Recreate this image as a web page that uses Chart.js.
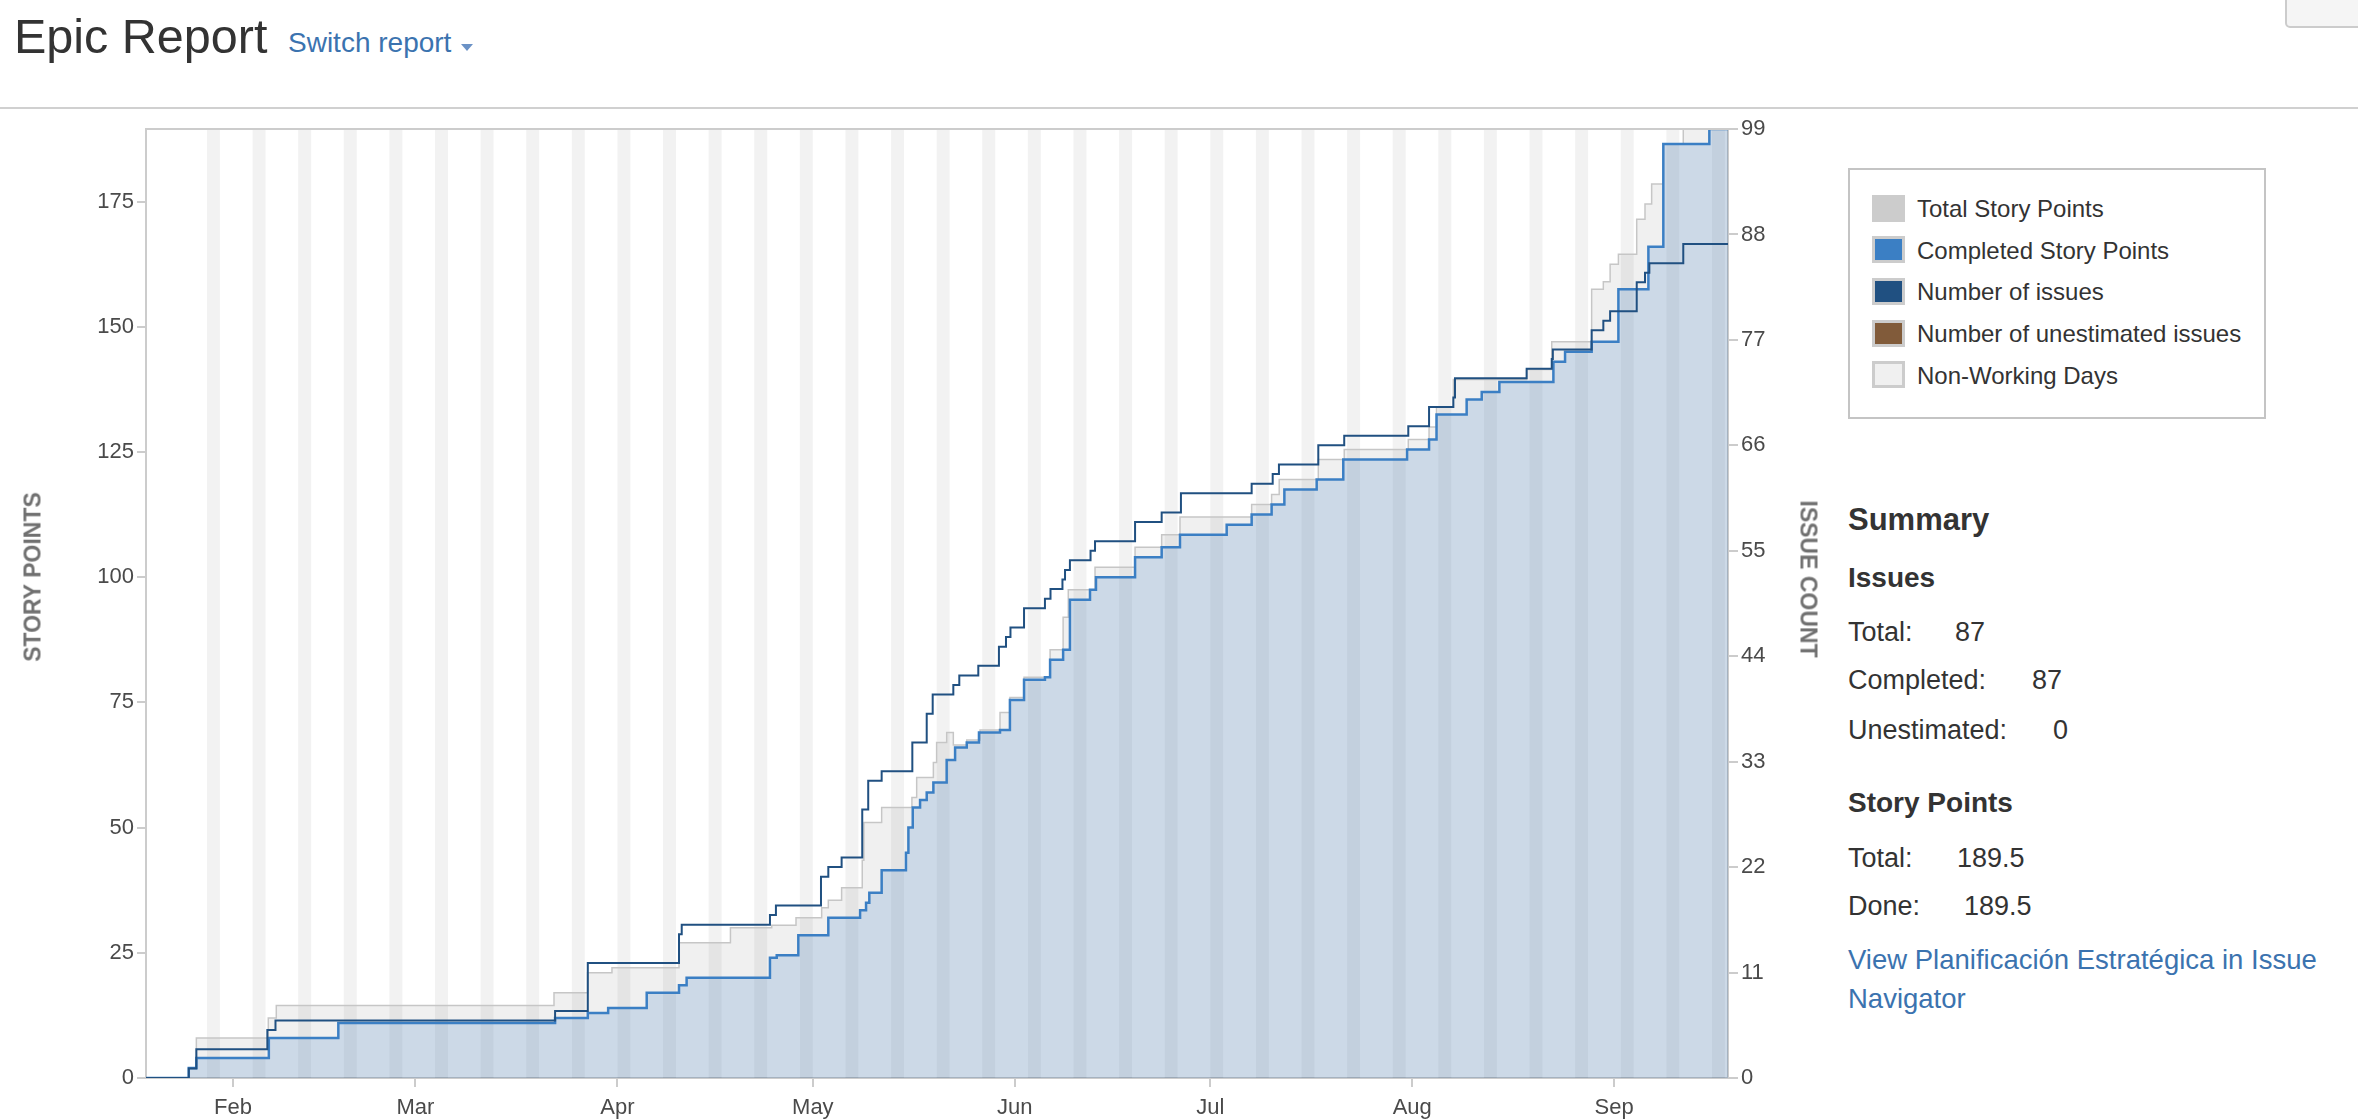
<!DOCTYPE html>
<html>
<head>
<meta charset="utf-8">
<script src="https://cdn.jsdelivr.net/npm/chart.js@4.4.1/dist/chart.umd.min.js"></script>
<style>
  html, body { margin: 0; padding: 0; background: #fff; }
  body { width: 2358px; height: 1120px; position: relative; overflow: hidden;
         font-family: "Liberation Sans", Arial, Helvetica, sans-serif; color: #333; }
  .abs { position: absolute; white-space: nowrap; line-height: 1; }
  .bold { font-weight: bold; }
  .swatch { position: absolute; width: 27px; height: 21px; border: 3px solid #ccc; }
  .legtext { position: absolute; font-size: 24px; line-height: 1; color: #333; white-space: nowrap; }
  .axis-title { position: absolute; font-size: 23px; font-weight: bold; color: #707070; white-space: nowrap; line-height: 1; }
  a, .link { color: #3b73af; text-decoration: none; }
</style>
</head>
<body>

<div class="abs" style="left:14px; top:12px; font-size:48.5px; color:#333;">Epic Report</div>
<div class="abs link" style="left:288px; top:29px; font-size:28px;">Switch report</div>
<div class="abs" style="left:461px; top:44px; width:0; height:0; border-left:6px solid transparent; border-right:6px solid transparent; border-top:7px solid #6b92c6;"></div>
<div class="abs" style="left:0; top:107px; width:2358px; height:2px; background:#d0d0d0;"></div>
<div class="abs" style="left:2285px; top:-8px; width:100px; height:32px; border:2px solid #ccc; border-radius:5px; background:#f5f5f5;"></div>

<canvas id="chart" width="1840" height="1120" style="position:absolute; left:0; top:0; width:1840px; height:1120px;"></canvas>

<div class="axis-title" style="left:33px; top:577px; transform:translate(-50%,-50%) rotate(-90deg);">STORY POINTS</div>
<div class="axis-title" style="left:1808px; top:579px; transform:translate(-50%,-50%) rotate(90deg);">ISSUE COUNT</div>

<div class="abs" style="left:1848px; top:168px; width:414px; height:247px; border:2px solid #c4c4c4;"></div>
<div id="legend"></div>

<div class="abs bold" style="left:1848px; top:504px; font-size:31px;">Summary</div>
<div class="abs bold" style="left:1848px; top:564px; font-size:28px;">Issues</div>
<div class="abs" style="left:1848px; top:619px; font-size:27px;">Total:</div>
<div class="abs" style="left:1955px; top:619px; font-size:27px;">87</div>
<div class="abs" style="left:1848px; top:667px; font-size:27px;">Completed:</div>
<div class="abs" style="left:2032px; top:667px; font-size:27px;">87</div>
<div class="abs" style="left:1848px; top:717px; font-size:27px;">Unestimated:</div>
<div class="abs" style="left:2053px; top:717px; font-size:27px;">0</div>
<div class="abs bold" style="left:1848px; top:789px; font-size:28px;">Story Points</div>
<div class="abs" style="left:1848px; top:845px; font-size:27px;">Total:</div>
<div class="abs" style="left:1957px; top:845px; font-size:27px;">189.5</div>
<div class="abs" style="left:1848px; top:893px; font-size:27px;">Done:</div>
<div class="abs" style="left:1964px; top:893px; font-size:27px;">189.5</div>
<div class="link" style="position:absolute; left:1848px; top:940px; width:500px; font-size:27.5px; line-height:39px;">View Planificación Estratégica in Issue Navigator</div>

<script>
// x axis: months of 2017
const monthTicks = ['2017-02-01', '2017-03-01', '2017-04-01', '2017-05-01', '2017-06-01', '2017-07-01', '2017-08-01', '2017-09-01'];
const monthLabels = ['Feb', 'Mar', 'Apr', 'May', 'Jun', 'Jul', 'Aug', 'Sep'];
const storyTicks = [0, 25, 50, 75, 100, 125, 150, 175];
const issueTicks = [0, 11, 22, 33, 44, 55, 66, 77, 88, 99];
const rangeStart = '2017-01-18T15:30';
const rangeEnd = '2017-09-18T11:15';
const firstWeekend = '2017-01-28';

// Total Story Points (change points)
const totalDates = ['2017-01-25T05:00', '2017-01-26T09:00', '2017-02-06T10:00', '2017-02-07T15:30', '2017-03-22T06:30', '2017-03-27T10:00', '2017-03-31T04:00', '2017-04-10T11:00', '2017-04-18T08:30', '2017-04-24T16:30', '2017-04-28T10:00', '2017-05-02T08:30', '2017-05-03T09:00', '2017-05-05T10:00', '2017-05-08T14:00', '2017-05-08T20:00', '2017-05-11T13:30', '2017-05-16T05:00', '2017-05-16T22:30', '2017-05-19T12:00', '2017-05-20T00:00', '2017-05-21T13:00', '2017-05-22T13:30', '2017-05-24T15:00', '2017-05-26T16:00', '2017-05-29T17:30', '2017-05-31T06:00', '2017-06-02T10:00', '2017-06-06T10:00', '2017-06-08T10:00', '2017-06-09T05:00', '2017-06-13T07:30', '2017-06-19T11:00', '2017-06-23T13:00', '2017-06-26T08:30', '2017-07-07T08:30', '2017-07-10T10:00', '2017-07-11T14:00', '2017-07-17T14:00', '2017-07-21T13:30', '2017-07-31T09:30', '2017-08-03T14:00', '2017-08-04T17:30', '2017-08-07T07:30', '2017-08-18T13:30', '2017-08-22T10:00', '2017-08-28T13:00', '2017-08-30T08:00', '2017-08-31T09:00', '2017-09-01T15:30', '2017-09-04T11:00', '2017-09-05T17:30', '2017-09-06T18:00', '2017-09-08T13:00', '2017-09-11T14:30'];
const totalPoints = [2, 8, 12, 14.5, 17, 21, 22, 27, 30, 30.5, 32, 34, 35.5, 38, 43.5, 51, 54, 56, 60, 63, 67, 69, 66.5, 67.5, 69.5, 73, 76, 80, 85.5, 92, 97.5, 102, 106, 108.5, 112, 114.5, 116.5, 119.5, 123.5, 125.5, 127.5, 130, 134, 139.5, 141.5, 147, 157.5, 159, 162.5, 164.5, 171.5, 174.5, 178.5, 186.5, 189.5];

// Completed Story Points (change points)
const completedDates = ['2017-01-25T05:00', '2017-01-26T09:00', '2017-02-06T12:00', '2017-02-17T04:00', '2017-03-22T10:30', '2017-03-27T11:00', '2017-03-30T14:00', '2017-04-05T12:00', '2017-04-10T11:00', '2017-04-11T15:00', '2017-04-24T10:00', '2017-04-25T11:00', '2017-04-28T18:30', '2017-05-03T09:00', '2017-05-08T06:00', '2017-05-09T04:00', '2017-05-09T16:00', '2017-05-11T13:30', '2017-05-15T07:00', '2017-05-15T16:00', '2017-05-16T08:00', '2017-05-17T11:00', '2017-05-18T11:30', '2017-05-19T12:00', '2017-05-21T13:00', '2017-05-22T20:00', '2017-05-24T15:00', '2017-05-26T12:00', '2017-05-29T17:30', '2017-05-31T06:00', '2017-06-02T10:00', '2017-06-05T15:00', '2017-06-06T10:00', '2017-06-08T10:00', '2017-06-09T11:00', '2017-06-12T13:00', '2017-06-13T11:00', '2017-06-19T11:00', '2017-06-23T13:00', '2017-06-26T08:30', '2017-07-03T12:30', '2017-07-07T08:30', '2017-07-10T10:00', '2017-07-12T09:00', '2017-07-17T08:00', '2017-07-21T10:00', '2017-07-31T05:00', '2017-08-03T14:00', '2017-08-04T17:30', '2017-08-09T08:30', '2017-08-11T16:00', '2017-08-14T09:00', '2017-08-22T16:00', '2017-08-24T11:00', '2017-08-28T13:00', '2017-09-01T15:30', '2017-09-06T06:00', '2017-09-08T13:00', '2017-09-15T14:30'];
const completedPoints = [2, 4, 8, 11, 12, 13, 14, 17, 18.5, 20, 24, 24.5, 28.5, 32, 33.5, 35, 37, 41.5, 45, 50, 54, 55.5, 57, 59, 63.5, 66, 67, 69, 69.5, 75.5, 79.5, 80, 83.5, 85.5, 95.5, 97.5, 100, 104, 106, 108.5, 110.5, 112.5, 114.5, 117.5, 119.5, 123.5, 125.5, 127.5, 132.5, 135.5, 137, 139, 143, 145, 147, 157.5, 166, 186.5, 189.5];

// Number of issues (change points)
const issueDates = ['2017-01-25T05:00', '2017-01-26T09:00', '2017-02-06T06:30', '2017-02-07T12:30', '2017-03-22T10:30', '2017-03-27T11:00', '2017-04-10T11:00', '2017-04-10T21:00', '2017-04-24T10:00', '2017-04-25T08:00', '2017-05-02T06:00', '2017-05-03T09:00', '2017-05-05T10:00', '2017-05-08T14:00', '2017-05-09T12:00', '2017-05-11T13:30', '2017-05-16T06:30', '2017-05-18T11:30', '2017-05-19T09:30', '2017-05-22T13:30', '2017-05-23T11:30', '2017-05-26T09:30', '2017-05-29T13:30', '2017-05-30T15:30', '2017-05-31T08:00', '2017-06-02T10:00', '2017-06-05T15:00', '2017-06-06T11:30', '2017-06-08T07:30', '2017-06-08T17:00', '2017-06-09T11:00', '2017-06-12T15:00', '2017-06-13T07:30', '2017-06-19T11:00', '2017-06-23T13:00', '2017-06-26T12:00', '2017-07-07T08:30', '2017-07-10T14:00', '2017-07-11T13:00', '2017-07-17T14:00', '2017-07-21T13:30', '2017-07-31T09:30', '2017-08-03T14:00', '2017-08-07T07:30', '2017-08-07T13:30', '2017-08-18T13:30', '2017-08-22T10:00', '2017-08-22T14:00', '2017-08-28T13:00', '2017-08-30T08:00', '2017-08-31T09:00', '2017-09-04T11:00', '2017-09-05T17:30', '2017-09-06T09:30', '2017-09-11T14:30'];
const issueCounts = [1, 3, 5, 6, 7, 12, 15, 16, 17, 18, 21, 22, 23, 28, 31, 32, 35, 38, 40, 41, 42, 43, 45, 46, 47, 49, 50, 51, 52, 53, 54, 55, 56, 58, 59, 61, 62, 63, 64, 66, 67, 68, 70, 71, 73, 74, 75, 76, 78, 79, 80, 83, 84, 85, 87];

const legendItems = ['Total Story Points', 'Completed Story Points', 'Number of issues', 'Number of unestimated issues', 'Non-Working Days'];
const legendColors = ['#cccccc', '#3b7fc4', '#205081', '#815b3a', '#f0f0f0'];

const DAY = 86400000;
const ts = s => Date.parse(s.length === 10 ? s + 'T00:00:00Z' : s + ':00Z');
const xMin = ts(rangeStart);
const xMax = ts(rangeEnd);

function steps(dates, values) {
    const pts = [{ x: xMin, y: 0 }];
    dates.forEach((d, i) => pts.push({ x: ts(d), y: values[i] }));
    pts.push({ x: xMax, y: values[values.length - 1] });
    return pts;
}

// legend (html)
const legend = document.getElementById('legend');
legendItems.forEach((name, i) => {
    const cy = 208 + i * 41.7;
    legend.insertAdjacentHTML('beforeend',
        `<div class="swatch" style="left:1872px; top:${cy - 13.5}px; background:${legendColors[i]};"></div>` +
        `<div class="legtext" style="left:1917px; top:${cy - 11}px;">${name}</div>`);
});

// weekend stripes + top frame
const nonWorkingDays = {
    id: 'nonWorkingDays',
    beforeDatasetsDraw(chart) {
        const { ctx, chartArea: a, scales: { x } } = chart;
        ctx.save();
        ctx.beginPath();
        ctx.rect(a.left, a.top, a.right - a.left, a.bottom - a.top);
        ctx.clip();
        ctx.fillStyle = 'rgba(0,0,0,0.05)';
        for (let t = ts(firstWeekend); t < xMax; t += 7 * DAY) {
            const x0 = x.getPixelForValue(t);
            const x1 = x.getPixelForValue(t + 2 * DAY);
            ctx.fillRect(x0, a.top, x1 - x0, a.bottom - a.top);
        }
        ctx.restore();
    },
    afterDraw(chart) {
        const { ctx, chartArea: a } = chart;
        ctx.save();
        ctx.strokeStyle = '#cccccc';
        ctx.lineWidth = 2;
        ctx.beginPath();
        ctx.moveTo(a.left, a.top);
        ctx.lineTo(a.right, a.top);
        ctx.stroke();
        ctx.restore();
    }
};

const tickFont = { family: '"Liberation Sans", Arial, sans-serif', size: 22 };
const tickColor = '#4a4a4a';

new Chart(document.getElementById('chart'), {
    type: 'line',
    data: {
        datasets: [
            {
                label: 'Number of issues',
                data: steps(issueDates, issueCounts),
                yAxisID: 'yIssues',
                stepped: 'before',
                borderColor: '#205081',
                borderWidth: 2,
                pointRadius: 0,
                fill: false
            },
            {
                label: 'Completed Story Points',
                data: steps(completedDates, completedPoints),
                yAxisID: 'yStory',
                stepped: 'before',
                borderColor: '#3b7fc4',
                borderWidth: 2.5,
                pointRadius: 0,
                fill: 'origin',
                backgroundColor: 'rgba(59,127,196,0.2)'
            },
            {
                label: 'Total Story Points',
                data: steps(totalDates, totalPoints),
                yAxisID: 'yStory',
                stepped: 'before',
                borderColor: '#c6c6c6',
                borderWidth: 1.5,
                pointRadius: 0,
                fill: 'origin',
                backgroundColor: 'rgba(0,0,0,0.06)'
            }
        ]
    },
    options: {
        responsive: false,
        animation: false,
        devicePixelRatio: 1,
        layout: { padding: { top: 129, left: 0, right: 0, bottom: 0 } },
        plugins: {
            legend: { display: false },
            tooltip: { enabled: false }
        },
        scales: {
            x: {
                type: 'linear',
                min: xMin,
                max: xMax,
                afterFit(s) { s.height = 42; },
                afterBuildTicks(s) { s.ticks = monthTicks.map(m => ({ value: ts(m) })); },
                ticks: {
                    callback: (v, i) => monthLabels[i],
                    color: tickColor, font: tickFont, padding: 8,
                    maxRotation: 0, autoSkip: false
                },
                grid: { drawOnChartArea: false, tickLength: 9, color: '#cccccc', lineWidth: 2 },
                border: { color: '#cccccc', width: 2 }
            },
            yStory: {
                type: 'linear',
                position: 'left',
                min: 0,
                max: 189.5,
                afterFit(s) { s.width = 146; },
                afterBuildTicks(s) { s.ticks = storyTicks.map(v => ({ value: v })); },
                ticks: { color: tickColor, font: tickFont, padding: 3 },
                grid: { drawOnChartArea: false, tickLength: 9, color: '#cccccc', lineWidth: 2 },
                border: { color: '#cccccc', width: 2 }
            },
            yIssues: {
                type: 'linear',
                position: 'right',
                min: 0,
                max: 99,
                afterFit(s) { s.width = 112; },
                afterBuildTicks(s) { s.ticks = issueTicks.map(v => ({ value: v })); },
                ticks: { color: tickColor, font: tickFont, padding: 3 },
                grid: { drawOnChartArea: false, tickLength: 10, color: '#cccccc', lineWidth: 2 },
                border: { color: '#cccccc', width: 2 }
            }
        }
    },
    plugins: [nonWorkingDays]
});
</script>
</body>
</html>
